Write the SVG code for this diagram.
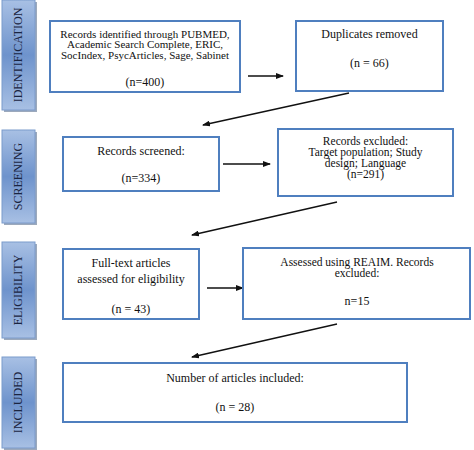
<svg xmlns="http://www.w3.org/2000/svg" width="474" height="450" viewBox="0 0 474 450">
<style>
.box{fill:#fff;stroke:#4f7fbf;stroke-width:2}
.t{font-family:"Liberation Serif","Times New Roman",serif;font-size:12px;fill:#111;text-anchor:middle}
.s{font-size:11px}
.m{font-size:11.5px}
.side{font-family:"Liberation Serif","Times New Roman",serif;font-size:12px;fill:#1a2440;text-anchor:middle}
.bar{fill:url(#g);stroke:#7b9bcc;stroke-width:1}
.sh{fill:#5a6f8f;opacity:0.6}
.c{stroke:#111;stroke-width:1.3;fill:none;marker-end:url(#ah)}
</style>
<defs>
<linearGradient id="g" x1="0" y1="0" x2="0" y2="1">
<stop offset="0" stop-color="#a8c0e4"/>
<stop offset="0.5" stop-color="#6e93cc"/>
<stop offset="1" stop-color="#a8c0e4"/>
</linearGradient>
<marker id="ah" markerWidth="8" markerHeight="6" refX="7" refY="3" orient="auto" markerUnits="userSpaceOnUse">
<path d="M0,0 L8,3 L0,6 Z" fill="#111"/>
</marker>
</defs>
<rect width="474" height="450" fill="#fff"/>
<g id="side-identification">
<rect class="sh" x="4" y="2" width="33" height="110"/>
<rect class="bar" x="2" y="0" width="33" height="110"/>
<text class="side" transform="translate(22,55) rotate(-90)">IDENTIFICATION</text>
</g>
<g id="side-screening">
<rect class="sh" x="4" y="132" width="33" height="93"/>
<rect class="bar" x="2" y="130" width="33" height="93"/>
<text class="side" transform="translate(22,176.5) rotate(-90)">SCREENING</text>
</g>
<g id="side-eligibility">
<rect class="sh" x="4" y="244" width="33" height="96"/>
<rect class="bar" x="2" y="242" width="33" height="96"/>
<text class="side" transform="translate(22,290) rotate(-90)">ELIGIBILITY</text>
</g>
<g id="side-included">
<rect class="sh" x="4" y="359" width="33" height="91"/>
<rect class="bar" x="2" y="357" width="33" height="91"/>
<text class="side" transform="translate(22,402.5) rotate(-90)">INCLUDED</text>
</g>
<g id="connectors">
<line class="c" x1="248" y1="76" x2="283" y2="76"/>
<line class="c" x1="349" y1="93" x2="203" y2="125"/>
<line class="c" x1="223" y1="164" x2="270" y2="164"/>
<line class="c" x1="337" y1="202" x2="192" y2="235"/>
<line class="c" x1="207" y1="288" x2="243" y2="288"/>
<line class="c" x1="337" y1="324" x2="192" y2="357"/>
</g>
<g id="n1">
<rect class="box" x="50" y="21" width="190" height="71"/>
<text class="t s" x="145" y="37.5">Records identified through PUBMED,</text>
<text class="t s" x="145" y="48">Academic Search Complete, ERIC,</text>
<text class="t s" x="145" y="58.5">SocIndex, PsycArticles, Sage, Sabinet</text>
<text class="t" x="145" y="86">(n=400)</text>
</g>
<g id="n2">
<rect class="box" x="296" y="21" width="147" height="70"/>
<text class="t" x="369.5" y="38">Duplicates removed</text>
<text class="t" x="369.5" y="67">(n = 66)</text>
</g>
<g id="n3">
<rect class="box" x="63" y="137" width="156" height="54"/>
<text class="t" x="141" y="155">Records screened:</text>
<text class="t" x="141" y="182">(n=334)</text>
</g>
<g id="n4">
<rect class="box" x="278" y="129" width="175" height="67"/>
<text class="t m" x="365.5" y="145">Records excluded:</text>
<text class="t m" x="365.5" y="156">Target population; Study</text>
<text class="t m" x="365.5" y="167">design; Language</text>
<text class="t m" x="365.5" y="178">(n=291)</text>
</g>
<g id="n5">
<rect class="box" x="63" y="249" width="136" height="70"/>
<text class="t" x="131" y="267">Full-text articles</text>
<text class="t" x="131" y="283">assessed for eligibility</text>
<text class="t" x="131" y="313">(n = 43)</text>
</g>
<g id="n6">
<rect class="box" x="243" y="248" width="227" height="71"/>
<text class="t m" x="357" y="266">Assessed using REAIM. Records</text>
<text class="t m" x="357" y="277">excluded:</text>
<text class="t" x="357" y="305">n=15</text>
</g>
<g id="n7">
<rect class="box" x="63" y="363" width="344" height="59"/>
<text class="t" x="235" y="381.5">Number of articles included:</text>
<text class="t" x="235" y="410.5">(n = 28)</text>
</g>
</svg>
